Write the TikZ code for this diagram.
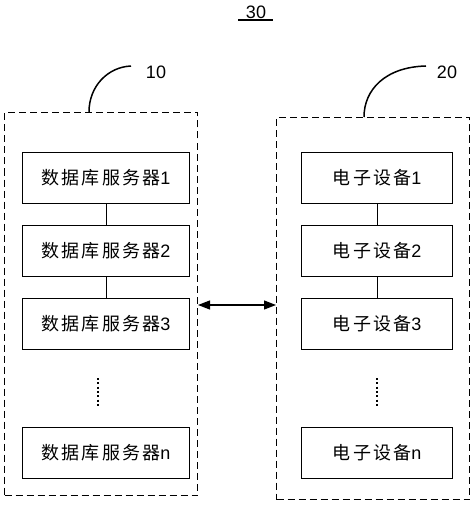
\documentclass[tikz,border=0pt]{standalone}
\usepackage{fontspec}
\setmainfont{Liberation Sans}
\newfontfamily\cjk[LetterSpace=12]{Noto Sans CJK SC}
\usetikzlibrary{arrows.meta}
\tikzset{
  groupbox/.style={draw, dashed, dash pattern=on 7pt off 4pt, line width=1pt, anchor=north west, minimum width=193pt, minimum height=383pt, inner sep=0pt},
  itembox/.style={draw, line width=1.2pt, anchor=north west, minimum height=51pt, inner sep=0pt, font=\fontsize{18pt}{21pt}\selectfont},
  leftitem/.style={itembox, minimum width=167pt},
  rightitem/.style={itembox, minimum width=151pt},
  link/.style={draw, line width=1.1pt},
  dots/.style={draw, line width=2.2pt, dash pattern=on 2pt off 2.3pt},
  lead/.style={draw, line width=1.5pt},
  lbl/.style={font=\fontsize{18pt}{21pt}\selectfont, inner sep=0pt},
  biarrow/.style={draw, line width=1.2pt, {Triangle[length=12pt,width=9pt]}-{Triangle[length=12pt,width=9pt]}}
}
\begin{document}
\begin{tikzpicture}[x=1pt,y=-1pt]
\useasboundingbox (0,0) rectangle (474,505);
% title
\node[lbl] (t30) at (256,12) {30};
\coordinate (u1) at (238,20);
\coordinate (u2) at (273,20);
\draw[line width=1.1pt] (u1) -- (u2);
% groups
\node[groupbox] (g1) at (4,112) {};
\node[groupbox, minimum height=382pt] (g2) at (276,117) {};
% labels and leaders
\node[lbl] (l10) at (156,72) {10};
\node[lbl] (l20) at (447,72) {20};
\coordinate (c10) at (131,66);
\coordinate (c20) at (426,66);
\draw[lead] (g1.north west -| 89,0) .. controls (89,86) and (108,67) .. (c10);
\draw[lead] (g2.north west -| 364,0) .. controls (364,90) and (385,67) .. (c20);
% left items
\node[leftitem] (a1) at (22,152) {{\cjk 数据库服务器}1};
\node[leftitem] (a2) at (22,225) {{\cjk 数据库服务器}2};
\node[leftitem] (a3) at (22,298) {{\cjk 数据库服务器}3};
\node[leftitem] (an) at (22,427) {{\cjk 数据库服务器}n};
\draw[link] (a1) -- (a2);
\draw[link] (a2) -- (a3);
\coordinate (d1a) at (98,378);
\coordinate (d1b) at (98,408);
\draw[dots] (d1a) -- (d1b);
% right items
\node[rightitem] (b1) at (301,152) {{\cjk 电子设备}1};
\node[rightitem] (b2) at (301,225) {{\cjk 电子设备}2};
\node[rightitem] (b3) at (301,298) {{\cjk 电子设备}3};
\node[rightitem] (bn) at (301,427) {{\cjk 电子设备}n};
\draw[link] (b1) -- (b2);
\draw[link] (b2) -- (b3);
\coordinate (d2a) at (377,378);
\coordinate (d2b) at (377,408);
\draw[dots] (d2a) -- (d2b);
% arrow
\coordinate (ay) at (0,305);
\draw[biarrow] (g1.east |- ay) -- (g2.west |- ay);
\end{tikzpicture}
\end{document}
